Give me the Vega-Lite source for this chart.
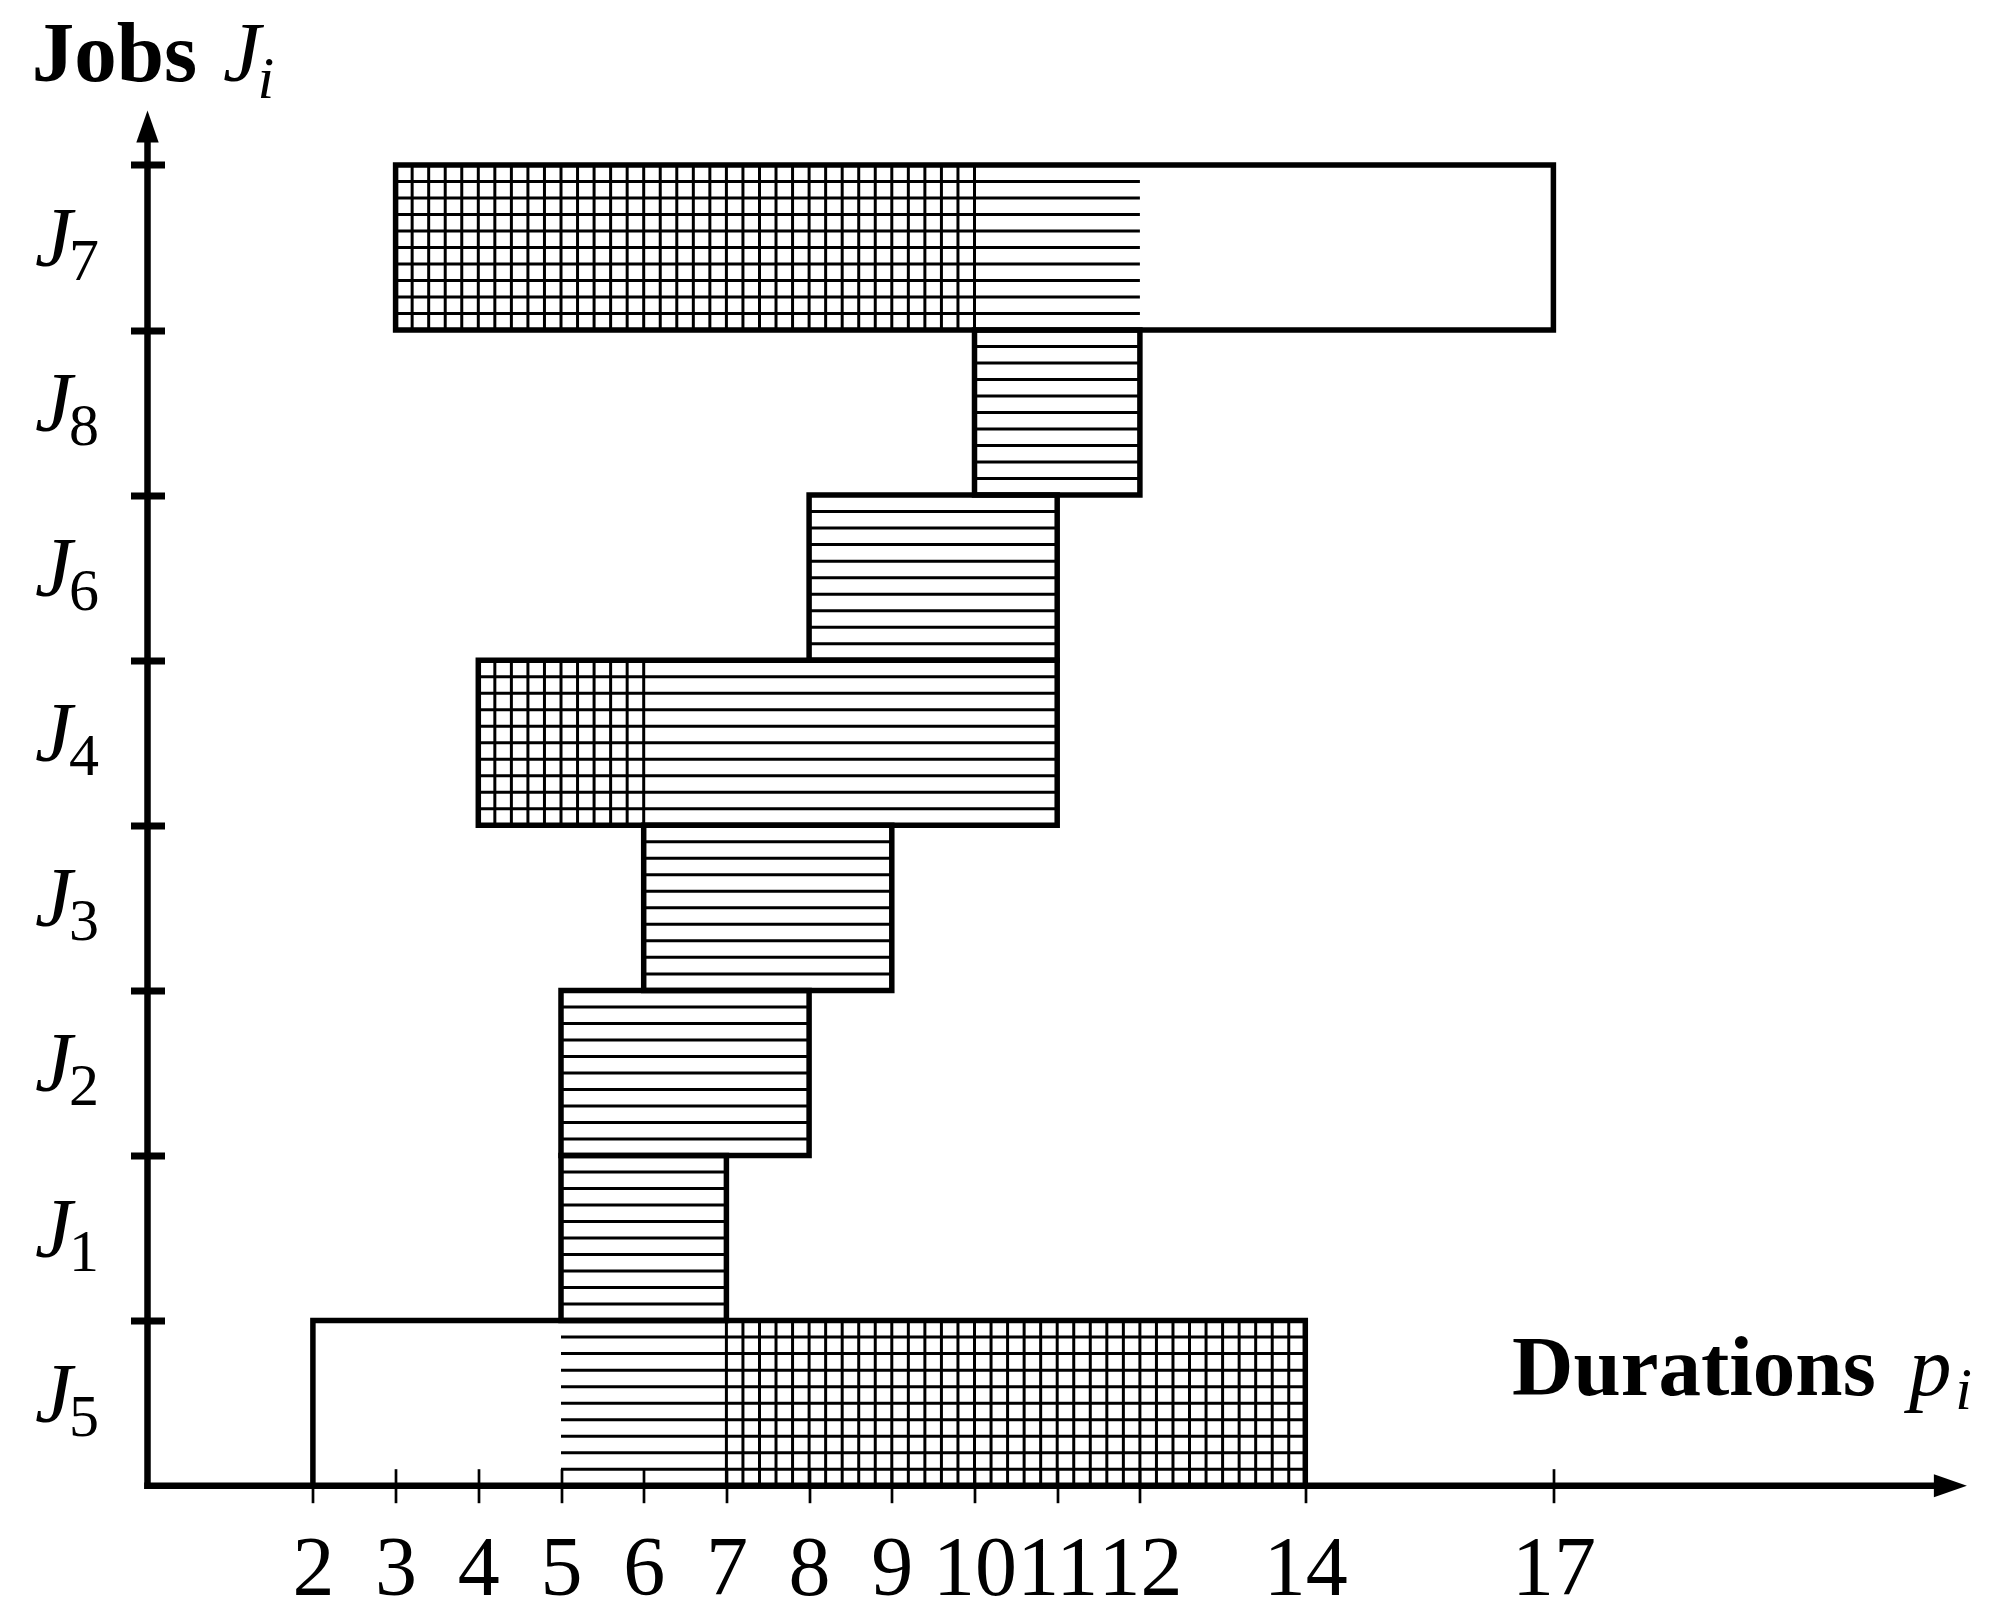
{
  "$schema": "https://vega.github.io/schema/vega-lite/v6.json",
  "autosize": "none",
  "width": 1819.4,
  "height": 1375.3,
  "padding": {"left": 147.5, "top": 110.4, "right": 40.1, "bottom": 129.3},
  "background": "white",
  "datasets": {
    "jobs": [
      {"job": "J5", "num": "5", "lo": 0, "hi": 1, "start": 2, "end": 14},
      {"job": "J1", "num": "1", "lo": 1, "hi": 2, "start": 5, "end": 7},
      {"job": "J2", "num": "2", "lo": 2, "hi": 3, "start": 5, "end": 8},
      {"job": "J3", "num": "3", "lo": 3, "hi": 4, "start": 6, "end": 9},
      {"job": "J4", "num": "4", "lo": 4, "hi": 5, "start": 4, "end": 11},
      {"job": "J6", "num": "6", "lo": 5, "hi": 6, "start": 8, "end": 11},
      {"job": "J8", "num": "8", "lo": 6, "hi": 7, "start": 10, "end": 12},
      {"job": "J7", "num": "7", "lo": 7, "hi": 8, "start": 3, "end": 17}
    ],
    "hatch_h": [
      {"job": "J5", "from": 5, "to": 14, "ys": [0.1, 0.2, 0.3, 0.4, 0.5, 0.6, 0.7, 0.8, 0.9]},
      {"job": "J1", "from": 5, "to": 7, "ys": [1.1, 1.2, 1.3, 1.4, 1.5, 1.6, 1.7, 1.8, 1.9]},
      {"job": "J2", "from": 5, "to": 8, "ys": [2.1, 2.2, 2.3, 2.4, 2.5, 2.6, 2.7, 2.8, 2.9]},
      {"job": "J3", "from": 6, "to": 9, "ys": [3.1, 3.2, 3.3, 3.4, 3.5, 3.6, 3.7, 3.8, 3.9]},
      {"job": "J4", "from": 4, "to": 11, "ys": [4.1, 4.2, 4.3, 4.4, 4.5, 4.6, 4.7, 4.8, 4.9]},
      {"job": "J6", "from": 8, "to": 11, "ys": [5.1, 5.2, 5.3, 5.4, 5.5, 5.6, 5.7, 5.8, 5.9]},
      {"job": "J8", "from": 10, "to": 12, "ys": [6.1, 6.2, 6.3, 6.4, 6.5, 6.6, 6.7, 6.8, 6.9]},
      {"job": "J7", "from": 3, "to": 12, "ys": [7.1, 7.2, 7.3, 7.4, 7.5, 7.6, 7.7, 7.8, 7.9]}
    ],
    "hatch_v": [
      {"job": "J5", "lo": 0, "hi": 1, "xs": [7, 7.2, 7.4, 7.6, 7.8, 8, 8.2, 8.4, 8.6, 8.8, 9, 9.2, 9.4, 9.6, 9.8, 10, 10.2, 10.4, 10.6, 10.8, 11, 11.2, 11.4, 11.6, 11.8, 12, 12.2, 12.4, 12.6, 12.8, 13, 13.2, 13.4, 13.6, 13.8]},
      {"job": "J4", "lo": 4, "hi": 5, "xs": [4.2, 4.4, 4.6, 4.8, 5, 5.2, 5.4, 5.6, 5.8, 6]},
      {"job": "J7", "lo": 7, "hi": 8, "xs": [3.2, 3.4, 3.6, 3.8, 4, 4.2, 4.4, 4.6, 4.8, 5, 5.2, 5.4, 5.6, 5.8, 6, 6.2, 6.4, 6.6, 6.8, 7, 7.2, 7.4, 7.6, 7.8, 8, 8.2, 8.4, 8.6, 8.8, 9, 9.2, 9.4, 9.6, 9.8, 10]}
    ]
  },
  "layer": [
    {
      "data": {"name": "jobs"},
      "mark": {"type": "rect", "fillOpacity": 0, "stroke": "black", "strokeWidth": 5.5, "strokeJoin": "miter"},
      "encoding": {
        "x": {
          "field": "start",
          "type": "quantitative",
          "scale": {"domain": [0, 22], "nice": false, "zero": false},
          "axis": {
            "orient": "bottom",
            "values": [2, 3, 4, 5, 6, 7, 8, 9, 10, 11, 12, 14, 17],
            "format": "d",
            "title": null,
            "grid": false,
            "domain": false,
            "offset": -17,
            "tickSize": 34,
            "tickWidth": 2.7,
            "tickColor": "black",
            "labelPadding": 92,
            "labelBaseline": "alphabetic",
            "labelFont": "Liberation Serif",
            "labelFontSize": 84,
            "labelColor": "black",
            "labelOverlap": false,
            "labelFlush": false,
            "labelBound": false
          }
        },
        "x2": {"field": "end"},
        "y": {
          "field": "lo",
          "type": "quantitative",
          "scale": {"domain": [0, 8.33], "nice": false, "zero": false},
          "axis": {
            "orient": "left",
            "values": [1, 2, 3, 4, 5, 6, 7, 8],
            "title": null,
            "grid": false,
            "domain": false,
            "labels": false,
            "offset": -17,
            "tickSize": 34,
            "tickWidth": 7,
            "tickColor": "black"
          }
        },
        "y2": {"field": "hi"}
      }
    },
    {
      "data": {"name": "hatch_h"},
      "transform": [{"flatten": ["ys"], "as": ["y"]}],
      "mark": {"type": "rule", "color": "black", "strokeWidth": 3},
      "encoding": {
        "x": {"field": "from", "type": "quantitative", "scale": {"domain": [0, 22], "nice": false, "zero": false}, "axis": {"title": null}},
        "x2": {"field": "to"},
        "y": {"field": "y", "type": "quantitative", "scale": {"domain": [0, 8.33], "nice": false, "zero": false}, "axis": {"title": null}}
      }
    },
    {
      "data": {"name": "hatch_v"},
      "transform": [{"flatten": ["xs"], "as": ["x"]}],
      "mark": {"type": "rule", "color": "black", "strokeWidth": 3},
      "encoding": {
        "x": {"field": "x", "type": "quantitative", "scale": {"domain": [0, 22], "nice": false, "zero": false}, "axis": {"title": null}},
        "y": {"field": "lo", "type": "quantitative", "scale": {"domain": [0, 8.33], "nice": false, "zero": false}, "axis": {"title": null}},
        "y2": {"field": "hi"}
      }
    },
    {
      "data": {"values": [{}]},
      "mark": {"type": "rule", "color": "black", "strokeWidth": 6.5, "strokeCap": "square"},
      "encoding": {
        "x": {"datum": 0, "type": "quantitative", "scale": {"domain": [0, 22], "nice": false, "zero": false}, "axis": {"title": null}},
        "x2": {"datum": 21.7},
        "y": {"datum": 0, "type": "quantitative", "scale": {"domain": [0, 8.33], "nice": false, "zero": false}, "axis": {"title": null}}
      }
    },
    {
      "data": {"values": [{}]},
      "mark": {"type": "rule", "color": "black", "strokeWidth": 6.5, "strokeCap": "square"},
      "encoding": {
        "x": {"datum": 0, "type": "quantitative", "scale": {"domain": [0, 22], "nice": false, "zero": false}, "axis": {"title": null}},
        "y": {"datum": 0, "type": "quantitative", "scale": {"domain": [0, 8.33], "nice": false, "zero": false}, "axis": {"title": null}},
        "y2": {"datum": 8.15}
      }
    },
    {
      "data": {"values": [{}]},
      "mark": {"type": "point", "filled": true, "color": "black", "opacity": 1, "shape": "M0,0 L-1,-0.35 L-1,0.35 Z", "size": 4356},
      "encoding": {
        "x": {"datum": 22, "type": "quantitative", "scale": {"domain": [0, 22], "nice": false, "zero": false}, "axis": {"title": null}},
        "y": {"datum": 0, "type": "quantitative", "scale": {"domain": [0, 8.33], "nice": false, "zero": false}, "axis": {"title": null}}
      }
    },
    {
      "data": {"values": [{}]},
      "mark": {"type": "point", "filled": true, "color": "black", "opacity": 1, "shape": "M0,0 L-0.35,1 L0.35,1 Z", "size": 4096},
      "encoding": {
        "x": {"datum": 0, "type": "quantitative", "scale": {"domain": [0, 22], "nice": false, "zero": false}, "axis": {"title": null}},
        "y": {"datum": 8.33, "type": "quantitative", "scale": {"domain": [0, 8.33], "nice": false, "zero": false}, "axis": {"title": null}}
      }
    },
    {
      "data": {"name": "jobs"},
      "mark": {"type": "text", "text": "J", "font": "Liberation Serif", "fontStyle": "italic", "fontSize": 84, "align": "left", "baseline": "alphabetic", "dy": -64, "color": "black"},
      "encoding": {
        "x": {"datum": -1.36, "type": "quantitative", "scale": {"domain": [0, 22], "nice": false, "zero": false}, "axis": {"title": null}},
        "y": {"field": "lo", "type": "quantitative", "scale": {"domain": [0, 8.33], "nice": false, "zero": false}, "axis": {"title": null}}
      }
    },
    {
      "data": {"name": "jobs"},
      "mark": {"type": "text", "font": "Liberation Serif", "fontSize": 60, "align": "left", "baseline": "alphabetic", "dy": -50, "color": "black"},
      "encoding": {
        "x": {"datum": -0.95, "type": "quantitative", "scale": {"domain": [0, 22], "nice": false, "zero": false}, "axis": {"title": null}},
        "y": {"field": "lo", "type": "quantitative", "scale": {"domain": [0, 8.33], "nice": false, "zero": false}, "axis": {"title": null}},
        "text": {"field": "num"}
      }
    },
    {
      "data": {"values": [{}]},
      "mark": {"type": "text", "text": "Jobs", "font": "Liberation Serif", "fontWeight": "bold", "fontSize": 85, "align": "left", "baseline": "alphabetic", "color": "black"},
      "encoding": {
        "x": {"datum": -1.4, "type": "quantitative", "scale": {"domain": [0, 22], "nice": false, "zero": false}, "axis": {"title": null}},
        "y": {"datum": 8.508, "type": "quantitative", "scale": {"domain": [0, 8.33], "nice": false, "zero": false}, "axis": {"title": null}}
      }
    },
    {
      "data": {"values": [{}]},
      "mark": {"type": "text", "text": "J", "font": "Liberation Serif", "fontStyle": "italic", "fontSize": 85, "align": "left", "baseline": "alphabetic", "color": "black"},
      "encoding": {
        "x": {"datum": 0.913, "type": "quantitative", "scale": {"domain": [0, 22], "nice": false, "zero": false}, "axis": {"title": null}},
        "y": {"datum": 8.508, "type": "quantitative", "scale": {"domain": [0, 8.33], "nice": false, "zero": false}, "axis": {"title": null}}
      }
    },
    {
      "data": {"values": [{}]},
      "mark": {"type": "text", "text": "i", "font": "Liberation Serif", "fontStyle": "italic", "fontSize": 60, "align": "left", "baseline": "alphabetic", "color": "black"},
      "encoding": {
        "x": {"datum": 1.33, "type": "quantitative", "scale": {"domain": [0, 22], "nice": false, "zero": false}, "axis": {"title": null}},
        "y": {"datum": 8.405, "type": "quantitative", "scale": {"domain": [0, 8.33], "nice": false, "zero": false}, "axis": {"title": null}}
      }
    },
    {
      "data": {"values": [{}]},
      "mark": {"type": "text", "text": "Durations", "font": "Liberation Serif", "fontWeight": "bold", "fontSize": 85, "align": "left", "baseline": "alphabetic", "color": "black"},
      "encoding": {
        "x": {"datum": 16.5, "type": "quantitative", "scale": {"domain": [0, 22], "nice": false, "zero": false}, "axis": {"title": null}},
        "y": {"datum": 0.549, "type": "quantitative", "scale": {"domain": [0, 8.33], "nice": false, "zero": false}, "axis": {"title": null}}
      }
    },
    {
      "data": {"values": [{}]},
      "mark": {"type": "text", "text": "p", "font": "Liberation Serif", "fontStyle": "italic", "fontSize": 85, "align": "left", "baseline": "alphabetic", "color": "black"},
      "encoding": {
        "x": {"datum": 21.3, "type": "quantitative", "scale": {"domain": [0, 22], "nice": false, "zero": false}, "axis": {"title": null}},
        "y": {"datum": 0.549, "type": "quantitative", "scale": {"domain": [0, 8.33], "nice": false, "zero": false}, "axis": {"title": null}}
      }
    },
    {
      "data": {"values": [{}]},
      "mark": {"type": "text", "text": "i", "font": "Liberation Serif", "fontStyle": "italic", "fontSize": 60, "align": "left", "baseline": "alphabetic", "color": "black"},
      "encoding": {
        "x": {"datum": 21.86, "type": "quantitative", "scale": {"domain": [0, 22], "nice": false, "zero": false}, "axis": {"title": null}},
        "y": {"datum": 0.465, "type": "quantitative", "scale": {"domain": [0, 8.33], "nice": false, "zero": false}, "axis": {"title": null}}
      }
    }
  ],
  "config": {
    "view": {"stroke": null},
    "axis": {"grid": false}
  }
}
